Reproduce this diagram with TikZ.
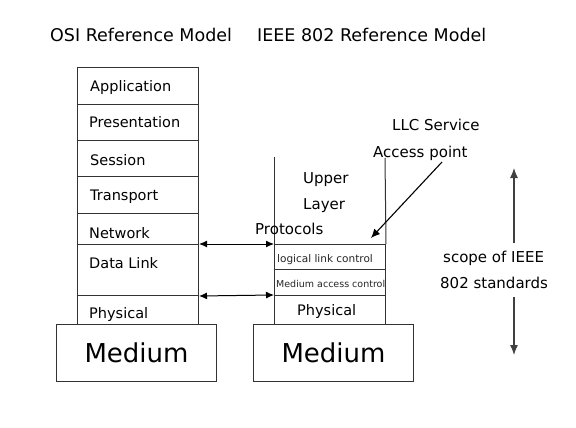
\documentclass[tikz,border=0pt]{standalone}
\usepackage{fontspec}
\setmainfont{DejaVu Sans}
\usetikzlibrary{arrows.meta,calc}
\begin{document}
\begin{tikzpicture}[x=1pt,y=-1pt,
  box/.style={draw=black!80,line width=1pt,inner sep=0pt,anchor=north west,minimum width=#1},
  box/.default=121pt,
  lbl/.style={anchor=base west,inner sep=0pt,font=\fontsize{14.5}{17}\selectfont},
  txt/.style={anchor=base west,inner sep=0pt,font=\fontsize{15}{18}\selectfont},
  ttl/.style={anchor=base west,inner sep=0pt,font=\fontsize{17.5}{20}\selectfont},
  small/.style={inner sep=0pt,font=\fontsize{#1}{12}\selectfont,text=black!85},
  vline/.style={draw=black!80,line width=1pt},
  dbl/.style={line width=1pt,{Latex[length=8pt,width=7pt]}-{Latex[length=8pt,width=7pt]}},
  sarrow/.style={line width=1.2pt,draw=black!75,-{Latex[length=10pt,width=8pt]}},
  medium/.style={draw=black!80,line width=1pt,inner sep=0pt,minimum width=160pt,minimum height=57pt,anchor=north west,font=\fontsize{26}{30}\selectfont}]
\useasboundingbox (0,0) rectangle (576,428);
\fill[white] (0,0) rectangle (576,428);

% titles
\node[ttl] (t1) at (50,42) {OSI Reference Model};
\node[ttl] (t2) at (257,42) {IEEE 802 Reference Model};

% OSI stack
\node[box,minimum height=37pt] (app) at (77,67) {};
\node[box,minimum height=36pt] (pres) at (77,104) {};
\node[box,minimum height=36pt] (sess) at (77,140) {};
\node[box,minimum height=37pt] (trans) at (77,176) {};
\node[box,minimum height=31pt] (net) at (77,213) {};
\node[box,minimum height=51pt] (dl) at (77,244) {};
\node[box,minimum height=29pt] (phy) at (77,295) {};

\node[lbl] (lapp) at (90,92) {Application};
\node[lbl] (lpres) at (89,128) {Presentation};
\node[lbl] (lsess) at (90,165) {Session};
\node[lbl] (ltrans) at (90,200) {Transport};
\node[lbl] (lnet) at (89,238) {Network};
\node[lbl] (ldl) at (89,268) {Data Link};
\node[lbl] (lphy) at (89,318) {Physical};

% IEEE stack
\node[box=111pt,minimum height=25pt] (llc) at (274,244) {};
\node[box=111pt,minimum height=26pt] (mac) at (274,269) {};
\node[box=111pt,minimum height=29pt] (iphy) at (274,295) {};
\coordinate (ulTop) at (274,157);
\coordinate (urTop) at (385,158);
\draw[vline] (llc.north west) -- (ulTop);
\draw[vline] (llc.north east) -- (urTop);

\node[small=10.5,anchor=base] (llctext) at (325,262) {logical link control};
\node[small=9.5,anchor=base west] (mactext) at (276,287) {Medium access control};
\node[lbl] (liphy) at (297,315) {Physical};

\node[txt] (upper) at (303,183) {Upper};
\node[txt] (layer) at (303,209) {Layer};
\node[txt] (proto) at (255,234) {Protocols};

\node[txt] (llcs) at (392,131) {LLC Service};
\node[txt] (sap) at (373,157) {Access point};
\coordinate (sapTail) at (442,162);
\draw[line width=1.1pt,-{Latex[length=9pt,width=8pt]}] (sapTail) -- ($(llc.north east)+(-15,-6)$);

% peer arrows
\draw[dbl] (dl.north east) -- (llc.north west);
\draw[dbl] (dl.south east) -- (iphy.north west);

% media
\node[medium] (medA) at (56,324) {Medium};
\node[medium] (medB) at (253,324) {Medium};

% scope
\node[txt] (scope1) at (443,262) {scope of IEEE};
\node[txt] (scope2) at (440,288) {802 standards};
\coordinate (upStart) at (514,243);
\coordinate (upEnd) at (514,168);
\coordinate (dnStart) at (514,297);
\coordinate (dnEnd) at (514,355);
\draw[sarrow] (upStart) -- (upEnd);
\draw[sarrow] (dnStart) -- (dnEnd);
\end{tikzpicture}
\end{document}
